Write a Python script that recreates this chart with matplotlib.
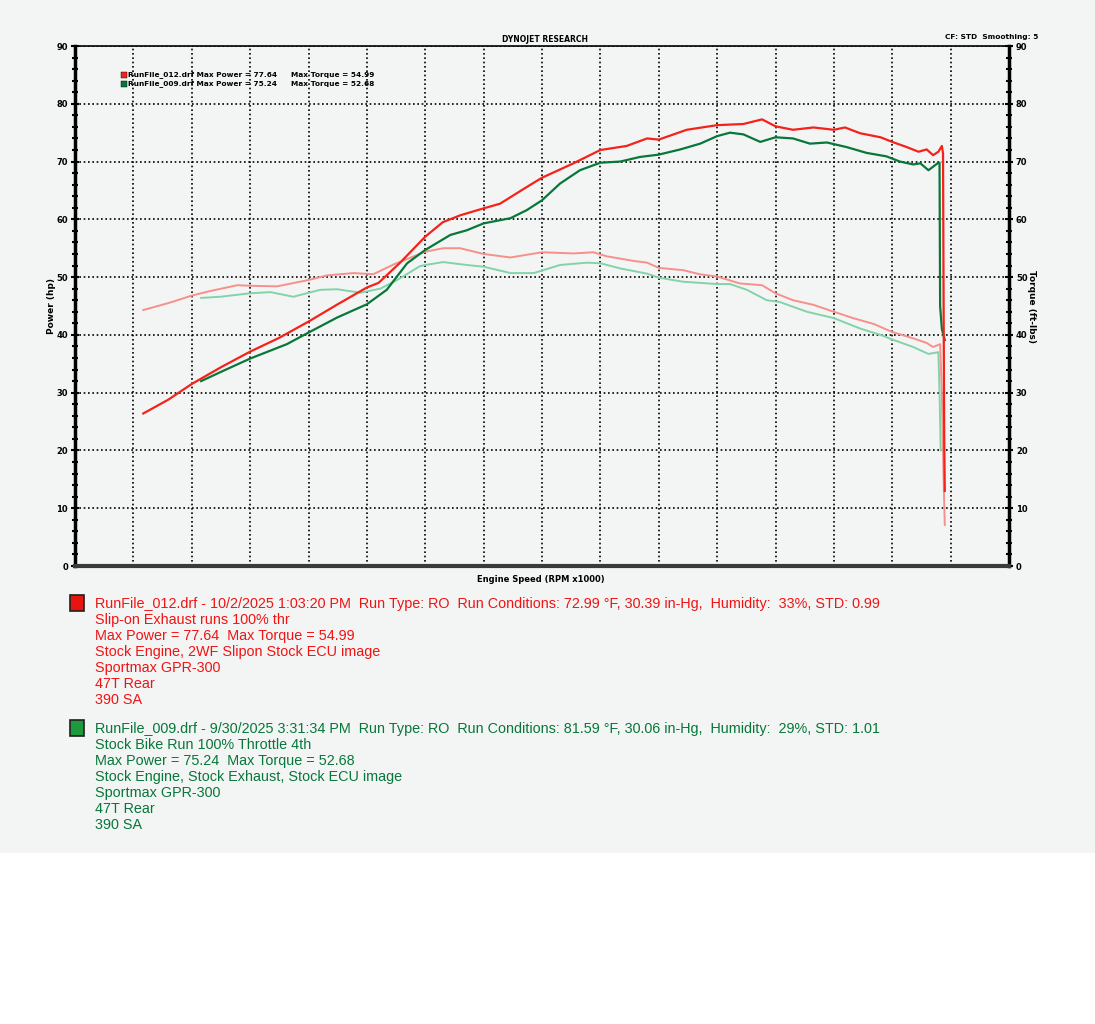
import matplotlib
matplotlib.use("Agg")
from matplotlib import pyplot as plt
from matplotlib.patches import Rectangle
from matplotlib.ticker import MultipleLocator

W, H = 1095, 1024

# engine speed in grid divisions (the chart prints no rpm labels)
rpm_red_power = [1.17, 1.6, 2.0, 2.5, 3.0, 3.5, 4.0, 4.5, 5.0, 5.2, 5.57, 6.0, 6.3, 6.6, 7.0,
                 7.28, 7.74, 8.0, 8.54, 9.0, 9.45, 9.8, 10.0, 10.48, 11.0, 11.45, 11.77, 12.0,
                 12.3, 12.65, 13.0, 13.19, 13.45, 13.8, 14.0, 14.25, 14.45, 14.59, 14.7, 14.79,
                 14.85, 14.87, 14.88, 14.89, 14.9]
red_power = [26.4, 28.8, 31.5, 34.4, 37.1, 39.5, 42.3, 45.3, 48.2, 49.0, 52.5, 57.0, 59.5, 60.7, 61.9,
             62.7, 65.6, 67.2, 69.7, 72.0, 72.7, 74.0, 73.8, 75.5, 76.3, 76.5, 77.3, 76.1,
             75.5, 75.9, 75.5, 75.9, 74.9, 74.2, 73.4, 72.5, 71.7, 72.1, 71.1, 71.7,
             72.7, 71.4, 45.0, 22.0, 13.0]

rpm_green_power = [2.16, 2.5, 3.0, 3.63, 4.0, 4.49, 5.0, 5.34, 5.69, 6.0, 6.43, 6.71, 7.0, 7.46,
                   7.74, 8.0, 8.31, 8.65, 9.0, 9.34, 9.68, 10.0, 10.37, 10.71, 11.0, 11.22, 11.45,
                   11.74, 12.0, 12.3, 12.59, 12.88, 13.22, 13.56, 13.9, 14.13, 14.36, 14.48, 14.62,
                   14.79, 14.81, 14.82, 14.85, 14.9]
green_power = [32.0, 33.6, 35.9, 38.4, 40.4, 43.0, 45.3, 47.8, 52.4, 54.7, 57.3, 58.1, 59.3, 60.2,
               61.6, 63.3, 66.2, 68.5, 69.8, 70.0, 70.8, 71.2, 72.1, 73.1, 74.4, 75.0, 74.7,
               73.4, 74.2, 74.0, 73.1, 73.3, 72.5, 71.5, 70.9, 70.0, 69.5, 69.7, 68.5,
               69.8, 69.8, 45.0, 41.0, 39.1]

rpm_red_torque = [1.17, 1.63, 2.0, 2.32, 2.78, 3.0, 3.46, 4.0, 4.32, 4.77, 5.11, 5.46, 6.0, 6.31,
                  6.6, 7.0, 7.46, 8.0, 8.54, 8.88, 9.11, 9.57, 9.8, 10.0, 10.42, 10.7, 11.0,
                  11.39, 11.77, 12.0, 12.3, 12.65, 13.0, 13.33, 13.68, 14.0, 14.36, 14.59, 14.7,
                  14.82, 14.85, 14.88, 14.9]
red_torque = [44.3, 45.6, 46.8, 47.6, 48.6, 48.5, 48.4, 49.5, 50.3, 50.7, 50.5, 52.2, 54.4, 55.0,
              55.0, 54.0, 53.4, 54.3, 54.1, 54.3, 53.6, 52.8, 52.5, 51.6, 51.2, 50.5, 50.1,
              48.9, 48.6, 47.2, 46.0, 45.2, 44.0, 42.9, 41.9, 40.5, 39.4, 38.6, 37.9,
              38.4, 30.0, 15.0, 7.1]

rpm_green_torque = [2.16, 2.49, 3.0, 3.35, 3.74, 4.2, 4.49, 4.89, 5.23, 5.52, 5.91, 6.0, 6.31, 6.71,
                    7.0, 7.46, 7.86, 8.31, 8.77, 9.0, 9.34, 9.8, 10.0, 10.42, 11.0, 11.22, 11.51,
                    11.85, 12.07, 12.54, 13.0, 13.45, 13.8, 14.0, 14.36, 14.62, 14.79, 14.81, 14.83]
green_torque = [46.4, 46.6, 47.2, 47.4, 46.6, 47.8, 47.9, 47.3, 48.0, 49.5, 51.9, 52.1, 52.6, 52.1,
                51.8, 50.7, 50.7, 52.1, 52.5, 52.4, 51.5, 50.6, 49.9, 49.2, 48.8, 48.8, 47.8,
                46.0, 45.7, 44.0, 42.9, 41.1, 40.0, 39.2, 37.9, 36.7, 37.0, 30.0, 20.0]

RED = "#f5221a"
GREEN = "#08773a"
RED_TQ = "#f7908a"
GREEN_TQ = "#83d3a8"

red_notes = [
    "RunFile_012.drf - 10/2/2025 1:03:20 PM  Run Type: RO  Run Conditions: 72.99 \u00b0F, 30.39 in-Hg,  Humidity:  33%, STD: 0.99",
    "Slip-on Exhaust runs 100% thr",
    "Max Power = 77.64  Max Torque = 54.99",
    "Stock Engine, 2WF Slipon Stock ECU image",
    "Sportmax GPR-300",
    "47T Rear",
    "390 SA",
]
green_notes = [
    "RunFile_009.drf - 9/30/2025 3:31:34 PM  Run Type: RO  Run Conditions: 81.59 \u00b0F, 30.06 in-Hg,  Humidity:  29%, STD: 1.01",
    "Stock Bike Run 100% Throttle 4th",
    "Max Power = 75.24  Max Torque = 52.68",
    "Stock Engine, Stock Exhaust, Stock ECU image",
    "Sportmax GPR-300",
    "47T Rear",
    "390 SA",
]


def fx(x):
    return x / W


def fy(y):
    return 1 - y / H


fig = plt.figure(figsize=(W / 100, H / 100), dpi=100, facecolor="white")
# scanned page area
fig.patches.append(Rectangle((0, fy(853)), 1, 1 - fy(853), transform=fig.transFigure,
                             facecolor="#f3f5f5", edgecolor="none", zorder=-10))

ax = fig.add_axes([fx(75), fy(566), fx(1009) - fx(75), fy(46) - fy(566)])
ax.set_facecolor("none")
ax.set_xlim(0, 16)
ax.set_ylim(0, 90)

ax.plot(rpm_red_torque, red_torque, color=RED_TQ, lw=1.4, zorder=3)
ax.plot(rpm_green_torque, green_torque, color=GREEN_TQ, lw=1.4, zorder=3)
ax.plot(rpm_green_power, green_power, color=GREEN, lw=1.6, zorder=4)
ax.plot(rpm_red_power, red_power, color=RED, lw=1.6, zorder=5)

ax2 = ax.twinx()
ax2.set_ylim(0, 90)
ax2.set_yticks([])
ax2.spines[:].set_visible(False)
ax2.set_ylabel("Torque (ft-lbs)", fontsize=6.5, fontweight="bold", rotation=270, labelpad=19.5)

ax.xaxis.set_major_locator(MultipleLocator(1))
ax.yaxis.set_major_locator(MultipleLocator(10))
ax.yaxis.set_minor_locator(MultipleLocator(2))
ax.grid(True, which="major", color="black", linestyle=(0, (1, 1.6)), linewidth=1.2)
ax.tick_params(axis="x", length=0, labelbottom=False)
ax.tick_params(axis="y", which="both", direction="inout", width=1.5, labelsize=6,
               left=True, right=True, labelleft=True, labelright=True, pad=2)
ax.tick_params(axis="y", which="major", length=6)
ax.tick_params(axis="y", which="minor", length=5)
for t in ax.yaxis.get_major_ticks():
    t.label1.set_fontweight("bold")
    t.label2.set_fontweight("bold")

for side in ["left", "right"]:
    ax.spines[side].set_linewidth(2.5)
ax.spines["top"].set_linewidth(1.2)
ax.spines["bottom"].set_linewidth(3)
ax.spines["bottom"].set_color("#3a3a3a")

ax.set_ylabel("Power (hp)", fontsize=6.5, fontweight="bold", labelpad=0)

fig.text(fx(545), fy(40), "DYNOJET RESEARCH", fontsize=5.5, fontweight="bold", ha="center", va="center")
fig.text(fx(1038), fy(37), "CF: STD  Smoothing: 5", fontsize=5.3, fontweight="bold", ha="right", va="center")
fig.text(fx(541), fy(580), "Engine Speed (RPM x1000)", fontsize=6, fontweight="bold", ha="center", va="center")

# small legend in the chart
for y, col, name, mp, mt in [(75, RED, "RunFile_012.drf", "77.64", "54.99"),
                             (84, GREEN, "RunFile_009.drf", "75.24", "52.68")]:
    fig.patches.append(Rectangle((fx(121), fy(y + 3)), fx(6), 6 / H, transform=fig.transFigure,
                                 facecolor=col, edgecolor="black", linewidth=0.3, zorder=5))
    fig.text(fx(128), fy(y), f"{name} Max Power = {mp}", fontsize=5.3, fontweight="bold", va="center")
    fig.text(fx(291), fy(y), f"Max Torque = {mt}", fontsize=5.3, fontweight="bold", va="center")

# run notes under the chart
for top, col, box, notes in [(604, "#f01414", "#e8140f", red_notes),
                             (729, GREEN, "#1c9a3c", green_notes)]:
    fig.patches.append(Rectangle((fx(70), fy(top + 7)), fx(14), 16 / H, transform=fig.transFigure,
                                 facecolor=box, edgecolor="#202020", linewidth=1.2, zorder=5))
    for i, line in enumerate(notes):
        fig.text(fx(95), fy(top + 16 * i), line, fontsize=10.4, family="Liberation Sans",
                 color=col, va="center")

fig.savefig("out.png", dpi=100, facecolor=fig.get_facecolor())
